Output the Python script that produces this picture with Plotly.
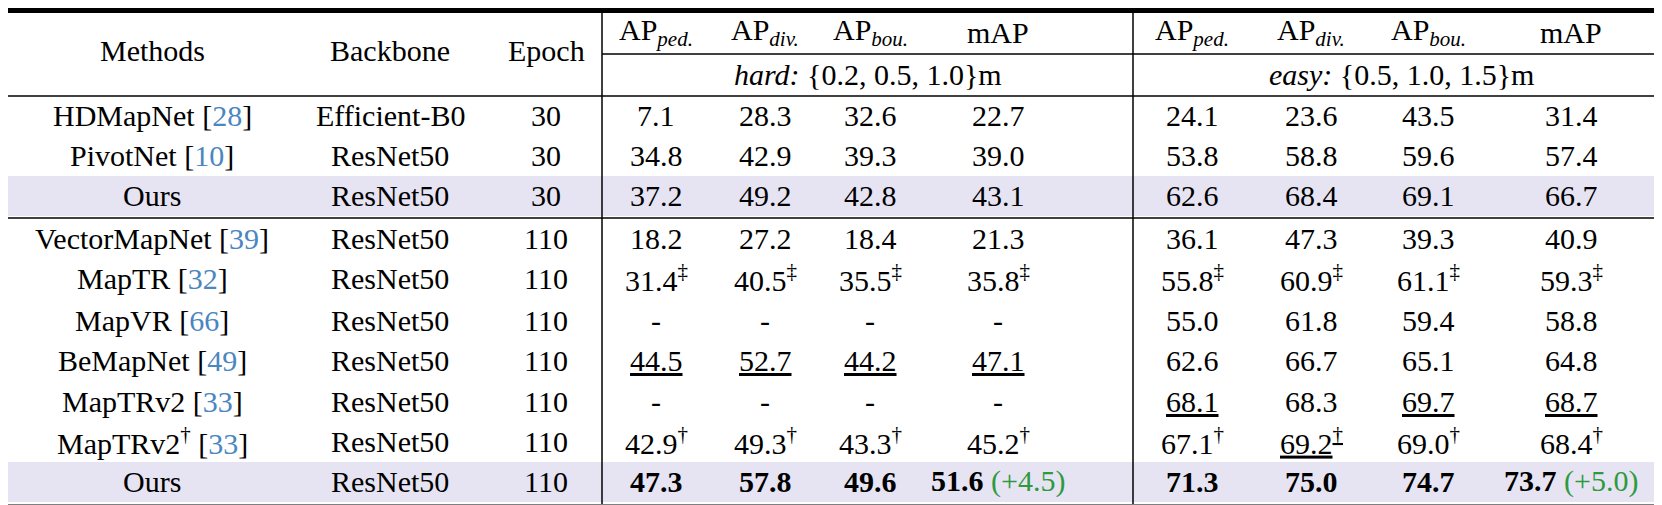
import plotly.graph_objects as go

methods = ["HDMapNet", "PivotNet", "Ours", "VectorMapNet", "MapTR", "MapVR",
           "BeMapNet", "MapTRv2", "MapTRv2<sup>†</sup>", "Ours"]
refs = ["28", "10", "", "39", "32", "66", "49", "33", "33", ""]
backbones = ["Efficient-B0"] + ["ResNet50"] * 9
epochs = ["30", "30", "30", "110", "110", "110", "110", "110", "110", "110"]

hard = [
    ["7.1", "28.3", "32.6", "22.7"],
    ["34.8", "42.9", "39.3", "39.0"],
    ["37.2", "49.2", "42.8", "43.1"],
    ["18.2", "27.2", "18.4", "21.3"],
    ["31.4‡", "40.5‡", "35.5‡", "35.8‡"],
    ["-", "-", "-", "-"],
    ["_44.5", "_52.7", "_44.2", "_47.1"],
    ["-", "-", "-", "-"],
    ["42.9†", "49.3†", "43.3†", "45.2†"],
    ["*47.3", "*57.8", "*49.6", "*51.6"],
]
easy = [
    ["24.1", "23.6", "43.5", "31.4"],
    ["53.8", "58.8", "59.6", "57.4"],
    ["62.6", "68.4", "69.1", "66.7"],
    ["36.1", "47.3", "39.3", "40.9"],
    ["55.8‡", "60.9‡", "61.1‡", "59.3‡"],
    ["55.0", "61.8", "59.4", "58.8"],
    ["62.6", "66.7", "65.1", "64.8"],
    ["_68.1", "68.3", "_69.7", "_68.7"],
    ["67.1†", "_69.2†", "69.0†", "68.4†"],
    ["*71.3", "*75.0", "*74.7", "*73.7"],
]
gains = ["(+4.5)", "(+5.0)"]
metric_subs = ["ped.", "div.", "bou."]

W, H = 1662, 505
col_x = [144, 382, 538, 648, 757, 862, 990, 1184, 1303, 1420, 1563]
row_y = [107, 147, 187, 230, 270, 312, 352, 393, 433, 473]
FONT = "Liberation Serif, Times New Roman, DejaVu Serif, serif"
BLUE = "#4a86c0"
GREEN = "#2e9a40"


def cell(s):
    under = s.startswith("_")
    bold = s.startswith("*")
    s = s.lstrip("_*")
    for mark in "†‡":
        s = s.replace(mark, "<sup>%s</sup>" % mark)
    if bold:
        s = "<b>%s</b>" % s
    if under:
        s = '<span style="text-decoration:underline">%s</span>' % s
    return s


fig = go.Figure()
ann = []


def txt(x, y, t):
    ann.append(dict(x=x, y=y, text=t, showarrow=False, xanchor="center",
                    yanchor="middle", font=dict(family=FONT, size=30, color="black")))


shapes = []
# shaded rows
for r in (2, 9):
    shapes.append(dict(type="rect", x0=0, x1=W, y0=row_y[r] - 19, y1=row_y[r] + 21,
                       fillcolor="#e6e4f3", line_width=0, layer="below"))

# headers
txt(col_x[0], 42, "Methods")
txt(col_x[1], 42, "Backbone")
txt(col_x[2], 42, "Epoch")
for g in range(2):
    for k, sub in enumerate(metric_subs):
        txt(col_x[3 + 4 * g + k], 24, "AP<sub><i>%s</i></sub>" % sub)
    txt(col_x[6 + 4 * g], 24, "mAP")
txt((594 + 1125) / 2, 66, "<i>hard:</i> {0.2, 0.5, 1.0}m")
txt((1125 + W) / 2, 66, "<i>easy:</i> {0.5, 1.0, 1.5}m")

for i in range(len(methods)):
    y = row_y[i]
    name = methods[i]
    if refs[i]:
        name += ' [<span style="color:%s">%s</span>]' % (BLUE, refs[i])
    txt(col_x[0], y, name)
    txt(col_x[1], y, backbones[i])
    txt(col_x[2], y, epochs[i])
    for k in range(4):
        h, e = cell(hard[i][k]), cell(easy[i][k])
        if i == len(methods) - 1 and k == 3:
            h += ' <span style="color:%s">%s</span>' % (GREEN, gains[0])
            e += ' <span style="color:%s">%s</span>' % (GREEN, gains[1])
        txt(col_x[3 + k], y, h)
        txt(col_x[7 + k], y, e)

# rules
shapes += [
    dict(type="line", x0=0, x1=W, y0=2.5, y1=2.5, line=dict(color="black", width=5)),
    dict(type="line", x0=594, x1=W, y0=46, y1=46, line=dict(color="black", width=1.5)),
    dict(type="line", x0=0, x1=W, y0=88, y1=88, line=dict(color="black", width=1.5)),
    dict(type="line", x0=0, x1=W, y0=210, y1=210, line=dict(color="black", width=1.5)),
    dict(type="line", x0=0, x1=W, y0=499, y1=499, line=dict(color="black", width=5)),
    dict(type="line", x0=594, x1=594, y0=5, y1=496, line=dict(color="black", width=1.5)),
    dict(type="line", x0=1125, x1=1125, y0=5, y1=496, line=dict(color="black", width=1.5)),
]

fig.update_layout(
    width=W, height=H, margin=dict(l=0, r=0, t=0, b=0),
    paper_bgcolor="white", plot_bgcolor="white",
    xaxis=dict(range=[0, W], visible=False, fixedrange=True),
    yaxis=dict(range=[H, 0], visible=False, fixedrange=True),
    annotations=ann, shapes=shapes, showlegend=False,
)
fig.write_html("out.html")
